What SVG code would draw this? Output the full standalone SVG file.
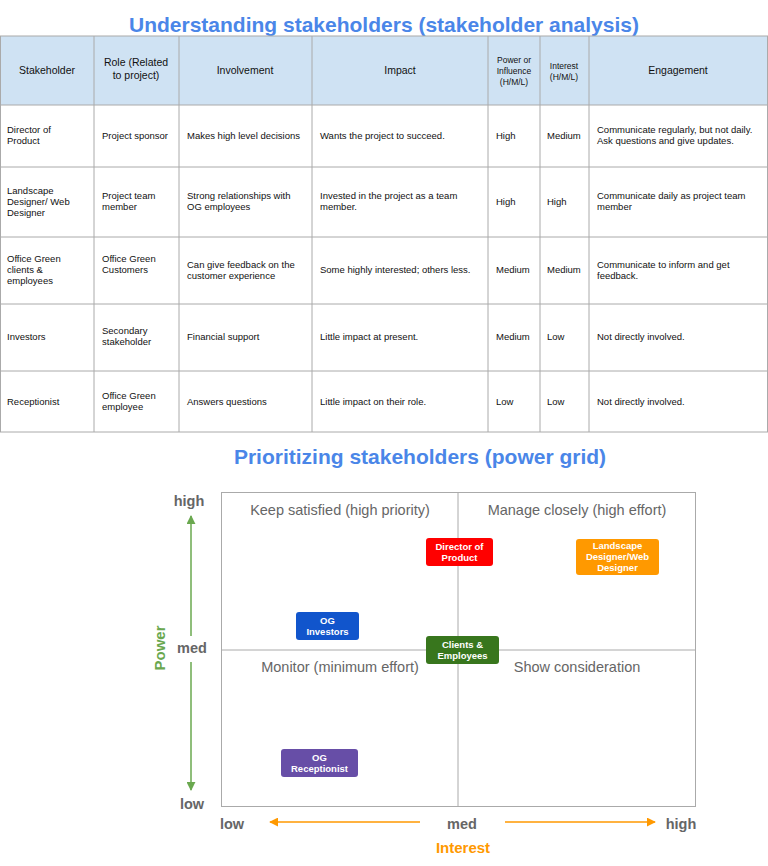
<svg xmlns="http://www.w3.org/2000/svg" width="768" height="866" viewBox="0 0 768 866">
<style>
text{font-family:"Liberation Sans",Arial,sans-serif}
.t{font-size:9.5px;fill:#111}
.h{font-size:10.5px;fill:#111;text-anchor:middle}
.hs{font-size:8.5px;fill:#111;text-anchor:middle}
.title{font-size:21px;font-weight:bold;fill:#4a86e8;text-anchor:middle}
.g{stroke:#aaa;fill:none}
.q{font-size:14.5px;fill:#666;text-anchor:middle}
.ax{font-size:14.5px;font-weight:bold;fill:#666;text-anchor:middle}
.n{font-size:9.5px;font-weight:bold;fill:#fff;text-anchor:middle}
</style>
<defs>
<marker id="ag" viewBox="0 0 10 10" refX="9" refY="5" markerWidth="6" markerHeight="6" orient="auto-start-reverse"><path d="M0,0L10,5L0,10z" fill="#6aa84f"/></marker>
<marker id="ao" viewBox="0 0 10 10" refX="9" refY="5" markerWidth="6" markerHeight="6" orient="auto-start-reverse"><path d="M0,0L10,5L0,10z" fill="#ff9900"/></marker>
</defs>
<rect width="768" height="866" fill="#fff"/>
<text class="title" x="384" y="32">Understanding stakeholders (stakeholder analysis)</text>
<g id="table">
<rect x="0" y="36" width="768" height="69" fill="#cfe2f3"/>
<g class="g" stroke-width="1">
<rect x="0.5" y="36" width="767" height="396"/>
<path d="M94 36V432M179 36V432M312 36V432M488 36V432M540 36V432M589 36V432M0 105H768M0 167H768M0 237H768M0 304H768M0 371H768"/>
</g>
<text class="h" x="47" y="74">Stakeholder</text>
<text class="h" x="136" y="66">Role (Related</text><text class="h" x="136" y="79">to project)</text>
<text class="h" x="245" y="74">Involvement</text>
<text class="h" x="400" y="74">Impact</text>
<text class="hs" x="514" y="63">Power or</text><text class="hs" x="514" y="74">Influence</text><text class="hs" x="514" y="85">(H/M/L)</text>
<text class="hs" x="564" y="69">Interest</text><text class="hs" x="564" y="80">(H/M/L)</text>
<text class="h" x="678" y="74">Engagement</text>

<text class="t" x="7" y="133">Director of</text><text class="t" x="7" y="144">Product</text>
<text class="t" x="102" y="139">Project sponsor</text>
<text class="t" x="187" y="139">Makes high level decisions</text>
<text class="t" x="320" y="139">Wants the project to succeed.</text>
<text class="t" x="496" y="139">High</text>
<text class="t" x="547" y="139">Medium</text>
<text class="t" x="597" y="133">Communicate regularly, but not daily.</text><text class="t" x="597" y="144">Ask questions and give updates.</text>

<text class="t" x="7" y="194">Landscape</text><text class="t" x="7" y="205">Designer/ Web</text><text class="t" x="7" y="216">Designer</text>
<text class="t" x="102" y="199">Project team</text><text class="t" x="102" y="210">member</text>
<text class="t" x="187" y="199">Strong relationships with</text><text class="t" x="187" y="210">OG employees</text>
<text class="t" x="320" y="199">Invested in the project as a team</text><text class="t" x="320" y="210">member.</text>
<text class="t" x="496" y="205">High</text>
<text class="t" x="547" y="205">High</text>
<text class="t" x="597" y="199">Communicate daily as project team</text><text class="t" x="597" y="210">member</text>

<text class="t" x="7" y="262">Office Green</text><text class="t" x="7" y="273">clients &amp;</text><text class="t" x="7" y="284">employees</text>
<text class="t" x="102" y="262">Office Green</text><text class="t" x="102" y="273">Customers</text>
<text class="t" x="187" y="268">Can give feedback on the</text><text class="t" x="187" y="279">customer experience</text>
<text class="t" x="320" y="273">Some highly interested; others less.</text>
<text class="t" x="496" y="273">Medium</text>
<text class="t" x="547" y="273">Medium</text>
<text class="t" x="597" y="268">Communicate to inform and get</text><text class="t" x="597" y="279">feedback.</text>

<text class="t" x="7" y="340">Investors</text>
<text class="t" x="102" y="334">Secondary</text><text class="t" x="102" y="345">stakeholder</text>
<text class="t" x="187" y="340">Financial support</text>
<text class="t" x="320" y="340">Little impact at present.</text>
<text class="t" x="496" y="340">Medium</text>
<text class="t" x="547" y="340">Low</text>
<text class="t" x="597" y="340">Not directly involved.</text>

<text class="t" x="7" y="405">Receptionist</text>
<text class="t" x="102" y="399">Office Green</text><text class="t" x="102" y="410">employee</text>
<text class="t" x="187" y="405">Answers questions</text>
<text class="t" x="320" y="405">Little impact on their role.</text>
<text class="t" x="496" y="405">Low</text>
<text class="t" x="547" y="405">Low</text>
<text class="t" x="597" y="405">Not directly involved.</text>
</g>

<text class="title" x="420" y="464">Prioritizing stakeholders (power grid)</text>
<g id="grid" class="g">
<rect x="221.5" y="492.5" width="474" height="314"/>
<path d="M458 492V806M221 650H695"/>
</g>
<text class="q" x="340" y="515">Keep satisfied (high priority)</text>
<text class="q" x="577" y="515">Manage closely (high effort)</text>
<text class="q" x="340" y="672">Monitor (minimum effort)</text>
<text class="q" x="577" y="672">Show consideration</text>
<text class="ax" x="189" y="506">high</text>
<text class="ax" x="192" y="653">med</text>
<text class="ax" x="192" y="809">low</text>
<text class="ax" x="232" y="829">low</text>
<text class="ax" x="462" y="829">med</text>
<text class="ax" x="681" y="829">high</text>
<text x="165" y="648" transform="rotate(-90 165 648)" style="font-size:15px;font-weight:bold;fill:#6aa84f;text-anchor:middle">Power</text>
<text x="463" y="853" style="font-size:15px;font-weight:bold;fill:#ff9900;text-anchor:middle">Interest</text>
<g id="connectors" stroke-width="1.5">
<line x1="191" y1="636" x2="191" y2="516" stroke="#6aa84f" marker-end="url(#ag)"/>
<line x1="191" y1="662" x2="191" y2="790" stroke="#6aa84f" marker-end="url(#ag)"/>
<line x1="420" y1="822" x2="270" y2="822" stroke="#ff9900" marker-end="url(#ao)"/>
<line x1="505" y1="822" x2="655" y2="822" stroke="#ff9900" marker-end="url(#ao)"/>
</g>
<g id="director"><rect x="426" y="538" width="67" height="28" rx="3" fill="#ff0000"/><text class="n" x="459.5" y="550">Director of</text><text class="n" x="459.5" y="561">Product</text></g>
<g id="landscape"><rect x="576" y="539" width="83" height="36" rx="3" fill="#ff9900"/><text class="n" x="617.5" y="549">Landscape</text><text class="n" x="617.5" y="560">Designer/Web</text><text class="n" x="617.5" y="571">Designer</text></g>
<g id="investors"><rect x="296" y="612" width="63" height="28" rx="3" fill="#1155cc"/><text class="n" x="327.5" y="624">OG</text><text class="n" x="327.5" y="635">Investors</text></g>
<g id="clients"><rect x="426" y="636" width="73" height="28" rx="3" fill="#38761d"/><text class="n" x="462.5" y="648">Clients &amp;</text><text class="n" x="462.5" y="659">Employees</text></g>
<g id="receptionist"><rect x="281" y="749" width="77" height="28" rx="3" fill="#674ea7"/><text class="n" x="319.5" y="761">OG</text><text class="n" x="319.5" y="772">Receptionist</text></g>
</svg>
